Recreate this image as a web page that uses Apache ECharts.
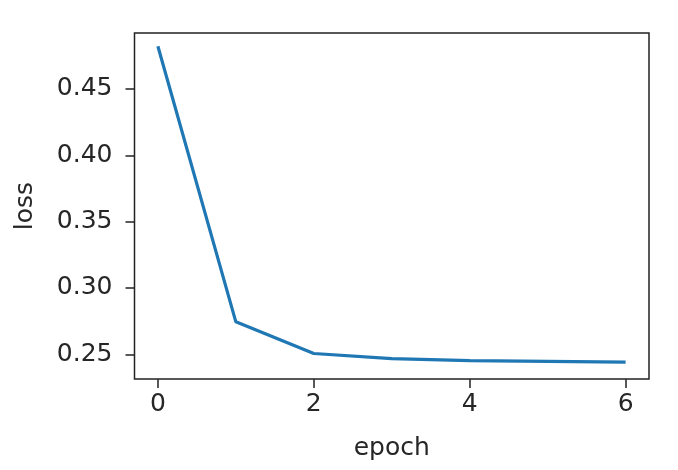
<!DOCTYPE html>
<html>
<head>
<meta charset="utf-8">
<script src="https://cdn.jsdelivr.net/npm/echarts@6/dist/echarts.min.js"></script>
<style>html,body{margin:0;padding:0;background:#fff;}#c{width:678px;height:470px;}</style>
</head>
<body>
<div id="c"></div>
<script>
const epochs = [0, 1, 2, 3, 4, 5, 6];
const loss = [0.4822, 0.2745, 0.2506, 0.2468, 0.2453, 0.2447, 0.2441];
const xTicks = [0, 2, 4, 6];
const yTicks = [0.25, 0.30, 0.35, 0.40, 0.45];

const textColor = '#262626';
const fontFamily = 'DejaVu Sans';
const chart = echarts.init(document.getElementById('c'));
chart.setOption({
  animation: false,
  backgroundColor: '#fff',
  grid: { left: 134.5, right: 29, top: 33, bottom: 91, show: true, borderColor: '#222', borderWidth: 1.5, backgroundColor: 'transparent' },
  xAxis: {
    type: 'value', min: -0.3, max: 6.3,
    name: 'epoch', nameLocation: 'middle', nameGap: 57,
    nameTextStyle: { color: textColor, fontSize: 25, fontFamily },
    axisLine: { show: false, onZero: false },
    splitLine: { show: false },
    axisTick: { show: true, inside: false, length: 9, customValues: xTicks, lineStyle: { color: '#222', width: 1.5 } },
    axisLabel: { customValues: xTicks, margin: 13, color: textColor, fontSize: 25, fontFamily, formatter: v => String(v) }
  },
  yAxis: {
    type: 'value', min: 0.2314, max: 0.4922,
    name: 'loss', nameLocation: 'middle', nameGap: 97, nameRotate: 90,
    nameTextStyle: { color: textColor, fontSize: 25, fontFamily },
    axisLine: { show: false, onZero: false },
    splitLine: { show: false },
    axisTick: { show: true, inside: false, length: 9, customValues: yTicks, lineStyle: { color: '#222', width: 1.5 } },
    axisLabel: { customValues: yTicks, margin: 22, color: textColor, fontSize: 25, fontFamily, formatter: v => v.toFixed(2) }
  },
  series: [{
    type: 'line',
    data: epochs.map((e, i) => [e, loss[i]]),
    showSymbol: false,
    lineStyle: { color: '#1f77b4', width: 3.2 }
  }]
});
</script>
</body>
</html>
